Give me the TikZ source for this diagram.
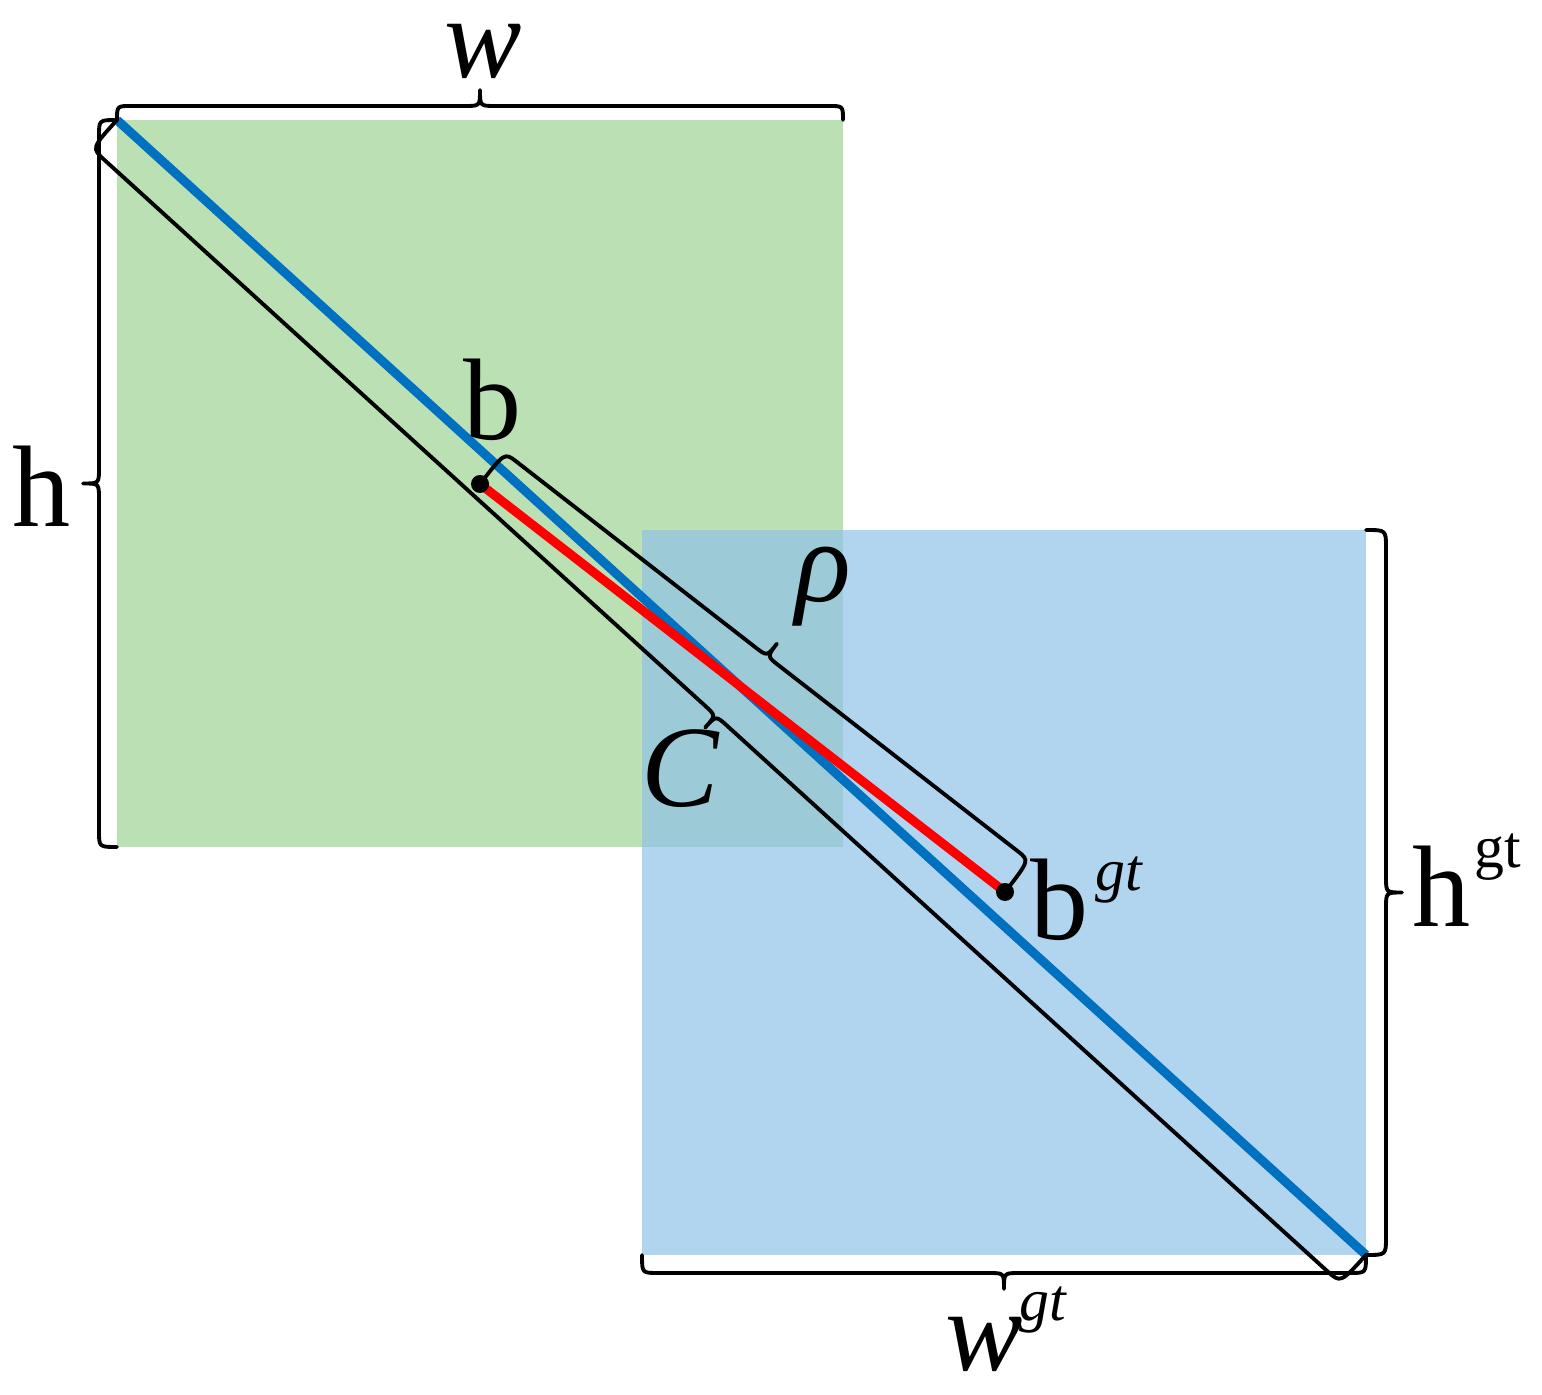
\documentclass[tikz,border=0pt]{standalone}
\usepackage{fontspec}
\setmainfont{Liberation Serif}
\usetikzlibrary{calc}

\definecolor{boxgreen}{RGB}{186,224,180}
\definecolor{boxblue}{RGB}{144,195,231}
\definecolor{diagblue}{RGB}{0,112,192}

\tikzset{
  lbl/.style={inner sep=0pt, anchor=base, font=\fontsize{33}{33}\selectfont},
  brc/.style={line width=1.1pt, line join=round, line cap=round},
  dot/.style={circle, fill=black, inner sep=0pt, minimum size=0.18cm},
}
\newcommand\gtsup[2]{\raisebox{#1}{\fontsize{17}{17}\selectfont #2}}

% brace from #1 to #2, on the left of the way; #3 arm offset, #4 curl
\newcommand\curly[4]{%
  \coordinate (c1) at ($(#1)!#3!90:(#2)$);
  \coordinate (c2) at ($(#2)!#3!-90:(#1)$);
  \coordinate (cm) at ($(c1)!0.5!(c2)$);
  \coordinate (ct) at ($(cm)!0.16cm!90:(c2)$);
  \draw[brc] (#1) .. controls (c1) .. ($(c1)!#4!(c2)$) -- ($(cm)!0.15cm!(c1)$)
    .. controls (cm) .. (ct) .. controls (cm) .. ($(cm)!0.15cm!(c2)$)
    -- ($(c2)!#4!(c1)$) .. controls (c2) .. (#2);
}

\begin{document}
\begin{tikzpicture}[x=0.01cm, y=-0.01cm]
\useasboundingbox (0,0) rectangle (1542,1395);

\coordinate (gtl) at (117,120); \coordinate (gtr) at (843,120);
\coordinate (gbl) at (117,847); \coordinate (gbr) at (843,847);
\coordinate (btl) at (642,530); \coordinate (btr) at (1366,530);
\coordinate (bbl) at (642,1255); \coordinate (bbr) at (1366,1255);
\coordinate (b) at (480,484);
\coordinate (bgt) at (1005,892);

\fill[boxgreen] (gtl) rectangle (gbr);
\fill[boxblue, opacity=0.7] (btl) rectangle (bbr);

\draw[diagblue, line width=0.09cm] (gtl) -- (bbr);
\draw[red, line width=0.09cm] (b) -- (bgt);

\curly{gtl}{gtr}{0.14cm}{0.14cm} % w
\curly{gbl}{gtl}{0.18cm}{0.16cm} % h
\curly{btr}{bbr}{0.2cm}{0.18cm}  % h gt
\curly{bbr}{bbl}{0.18cm}{0.16cm} % w gt
\curly{bbr}{gtl}{0.38cm}{0.18cm} % C
\curly{b}{bgt}{0.40cm}{0.15cm}   % rho

\node[dot] (bdot) at (b) {};
\node[dot] (bgtdot) at (bgt) {};

\node[lbl] (wlab) at (483,78) {\textit{w}};
\node[lbl] (hlab) at (42,527) {h};
\node[lbl] (blab) at (493,440) {b};
\node[lbl, anchor=base west] (bgtlab) at (1030,940) {b\hspace{2pt}\gtsup{14pt}{\textit{gt}}};
\node[lbl, anchor=base west] (hgtlab) at (1412,927) {h\hspace{1pt}\gtsup{17pt}{gt}};
\node[lbl, anchor=base west] (wgtlab) at (945,1370) {\textit{w}\hspace{-1pt}\gtsup{14pt}{\textit{gt}}};
\node[lbl] (rholab) at (823,602) {\textit{ρ}};
\node[lbl] (clab) at (681,807) {\textit{C}};
\end{tikzpicture}
\end{document}
